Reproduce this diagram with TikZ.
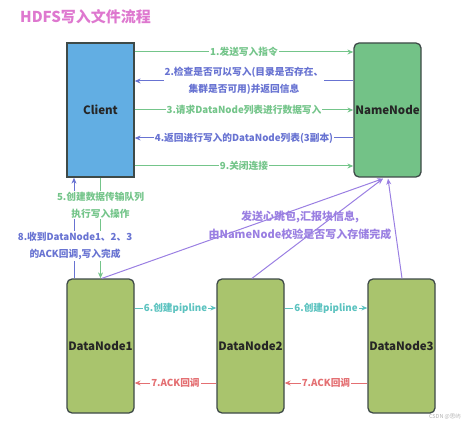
\documentclass[tikz,border=0pt]{standalone}
\usepackage{fontspec}
\setmainfont{Noto Sans CJK SC}
\usetikzlibrary{arrows.meta}
\definecolor{cfill}{HTML}{62AEE3}
\definecolor{nfill}{HTML}{73C287}
\definecolor{dfill}{HTML}{A9C46D}
\definecolor{bord}{HTML}{3E4A48}
\definecolor{cgreen}{HTML}{74C58A}
\definecolor{cblue}{HTML}{6873D2}
\definecolor{cpurple}{HTML}{9A7FE2}
\definecolor{cteal}{HTML}{5CC3C0}
\definecolor{cred}{HTML}{E46F72}
\definecolor{ctitle}{HTML}{DE78CF}
\tikzset{
  box/.style={draw=bord, line width=1.3pt, minimum width=67pt, minimum height=134pt, inner sep=0pt,
    font=\fontsize{11.5}{13}\selectfont\bfseries, text=black!85},
  rbox/.style={box, rounded corners=5pt},
  arr/.style={line width=1pt, -{Stealth[length=6pt,width=5pt]}},
  lab/.style={fill=white, inner sep=1pt, font=\fontsize{9.7}{17}\selectfont\bfseries, align=center},
}
\begin{document}
\begin{tikzpicture}[x=1pt,y=-1pt]
\useasboundingbox (0,0) rectangle (474,425);
\node[anchor=west, text=ctitle, font=\fontsize{15}{17}\selectfont\bfseries, inner sep=0pt] (title) at (20,17) {HDFS写入文件流程};

\node[box, fill=cfill] (client) at (100.5,110) {Client};
\node[rbox, fill=nfill] (namenode) at (387.5,110) {NameNode};
\node[rbox, fill=dfill] (dn1) at (100.5,346) {DataNode1};
\node[rbox, fill=dfill] (dn2) at (250.5,346) {DataNode2};
\node[rbox, fill=dfill] (dn3) at (401.5,346) {DataNode3};

% client <-> namenode
\draw[arr, cgreen] ([yshift=58pt]client.east) -- node[lab, text=cgreen] (l1) {1.发送写入指令} ([yshift=58pt]namenode.west);
\draw[arr, cblue] ([yshift=29pt]namenode.west) -- node[lab, text=cblue] (l2) {2.检查是否可以写入(目录是否存在、\\集群是否可用)并返回信息} ([yshift=29pt]client.east);
\draw[arr, cgreen] (client.east) -- node[lab, text=cgreen] (l3) {3.请求DataNode列表进行数据写入} (namenode.west);
\draw[arr, cblue] ([yshift=-28pt]namenode.west) -- node[lab, text=cblue] (l4) {4.返回进行写入的DataNode列表(3副本)} ([yshift=-28pt]client.east);
\draw[arr, cgreen] ([yshift=-56pt]client.east) -- node[lab, text=cgreen] (l9) {9.关闭连接} ([yshift=-56pt]namenode.west);

% client <-> dn1
\draw[arr, cblue] ([xshift=-26.5pt]dn1.north) -- ([xshift=-26.5pt]client.south);
\draw[arr, cgreen] (client.south) -- node[lab, text=cgreen, pos=0.27] (l5) {5.创建数据传输队列\\执行写入操作} (dn1.north);
\node[lab, text=cblue] (l8) at (75,246) {8.收到DataNode1、2、3\\的ACK回调,写入完成};

% heartbeat
\draw[arr, cpurple] ([xshift=1.5pt]dn1.north) -- ([xshift=-4.5pt,yshift=-1pt]namenode.south);
\draw[arr, cpurple] ([xshift=1.5pt]dn2.north) -- ([xshift=-4.5pt,yshift=-1pt]namenode.south);
\draw[arr, cpurple] ([xshift=0.5pt]dn3.north) -- ([xshift=0.5pt,yshift=-1pt]namenode.south);
\node[lab, text=cpurple, font=\fontsize{11}{18}\selectfont\bfseries, fill=none] (hb) at (300,225) {发送心跳包,汇报块信息,\\由NameNode校验是否写入存储完成};

% pipeline
\draw[arr, cteal] ([yshift=38pt]dn1.east) -- node[lab, text=cteal] (l6a) {6.创建pipline} ([yshift=38pt]dn2.west);
\draw[arr, cteal] ([yshift=38pt]dn2.east) -- node[lab, text=cteal] (l6b) {6.创建pipline} ([yshift=38pt]dn3.west);
\draw[arr, cred] ([yshift=-37pt]dn2.west) -- node[lab, text=cred] (l7a) {7.ACK回调} ([yshift=-37pt]dn1.east);
\draw[arr, cred] ([yshift=-37pt]dn3.west) -- node[lab, text=cred] (l7b) {7.ACK回调} ([yshift=-37pt]dn2.east);

\node[text=black!30, font=\fontsize{5.5}{6}\selectfont, inner sep=0pt] (wm) at (445,417) {CSDN @思屿};
\end{tikzpicture}
\end{document}
